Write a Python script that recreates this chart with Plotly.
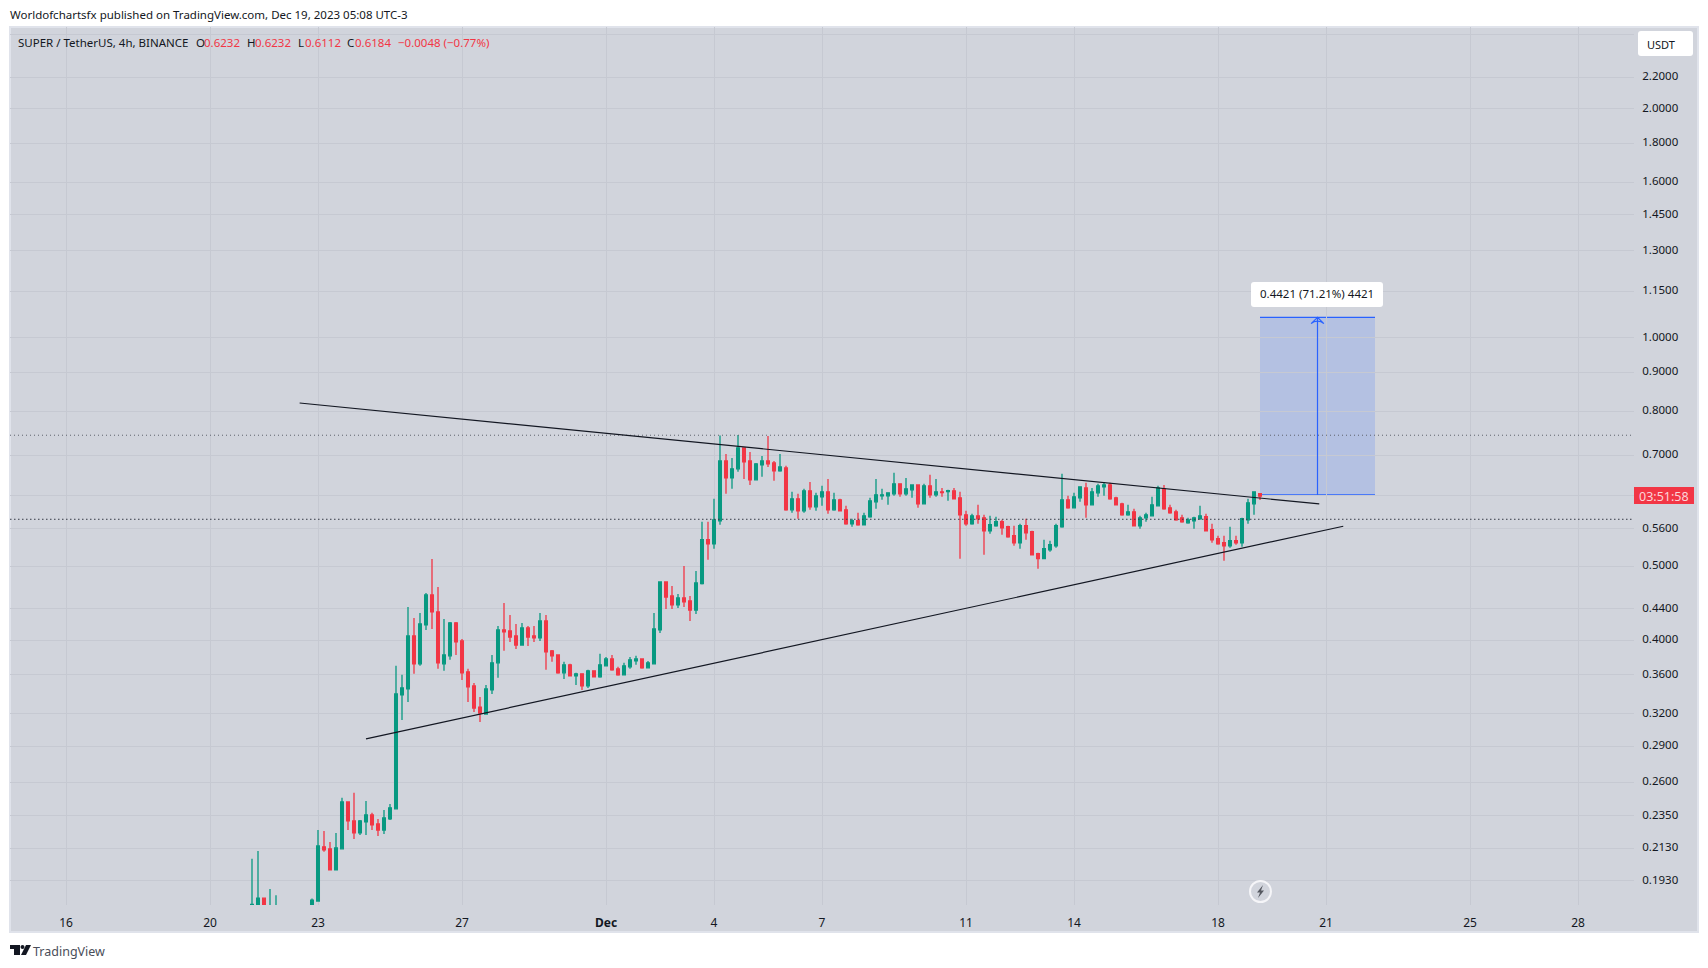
import pandas as pd
import plotly.graph_objects as go

# SUPER / USDT 4h candles (first ones sit below the visible range)
opens = [
    .1785, .1775, .1831, .1760, .1765, .1760, .1770, .1755, .1765, .1775,
    .1775, .1815, .2139, .2126, .1995, .2126, .2451, .2314, .2231, .2307,
    .2356, .2293, .2251, .2328, .2400, .3388, .3450, .4051, .3723, .4188,
    .4586, .4356, .3723, .3814, .4213, .3990, .3634, .3482, .3266, .3198,
    .3440, .3734, .4125, .4113, .4051, .3941, .4150, .4051, .4026, .4239,
    .3872, .3825, .3623, .3712, .3590, .3612, .3482, .3645, .3579, .3700,
    .3779, .3667, .3601, .3689, .3756, .3779, .3678, .3723, .4125, .4770,
    .4572, .4450, .4545, .4504, .4382, .4746, .5420, .5355, .5741, .6882,
    .6537, .6718, .7158, .6882, .6498, .6799, .6882, .6840, .6677, .6738,
    .5935, .6135, .5917, .6285, .5989, .6172, .6266, .5935, .6117, .5935,
    .5689, .5741, .5672, .5811, .6080, .6191, .6191, .6229, .6420, .6229,
    .6304, .6400, .6044, .6381, .6210, .6266, .6272, .6285, .6154, .5846,
    .5689, .5828, .5793, .5570, .5655, .5724, .5638, .5486, .5371, .5655,
    .5553, .5196, .5118, .5259, .5323, .5638, .6117, .5971, .6154, .6342,
    .6025, .6247, .6362, .6400, .6154, .6044, .5846, .5899, .5655, .5793,
    .5828, .6007, .6323, .5971, .5899, .5793, .5706, .5741, .5776, .5811,
    .5587, .5437, .5371, .5323, .5404, .5371, .5758, .6044, .6232,
]
highs = [
    .2063, .2113, .1831, .1883, .1848, .1785, .1785, .1780, .1785, .1788,
    .1829, .2251, .2245, .2171, .2231, .2481, .2451, .2519, .2321, .2458,
    .2371, .2328, .2392, .2436, .3700, .3601, .4422, .4277, .4343, .4614,
    .5114, .4699, .4264, .4226, .4226, .4014, .3667, .3513, .3367, .3493,
    .3825, .4175, .4477, .4316, .4200, .4213, .4175, .4175, .4343, .4316,
    .3883, .3825, .3745, .3723, .3623, .3612, .3656, .3645, .3837, .3802,
    .3825, .3689, .3734, .3802, .3814, .3779, .3756, .4343, .4770, .4770,
    .4713, .4601, .5007, .4572, .4932, .5724, .5724, .6135, .7430, .7029,
    .6944, .7445, .7158, .7072, .6840, .6987, .7423, .6882, .7029, .6779,
    .6266, .6229, .6323, .6458, .6247, .6381, .6517, .6247, .6135, .6007,
    .5776, .5881, .5881, .6154, .6517, .6323, .6247, .6637, .6420, .6537,
    .6400, .6400, .6420, .6597, .6517, .6342, .6304, .6342, .6266, .5917,
    .5864, .6025, .5846, .5828, .5811, .5758, .5655, .5655, .5689, .5776,
    .5570, .5212, .5420, .5404, .5689, .6617, .6191, .6247, .6362, .6439,
    .6342, .6420, .6458, .6439, .6172, .6062, .6025, .5953, .5828, .5881,
    .6172, .6381, .6400, .6025, .5935, .5846, .5793, .5811, .6007, .5864,
    .5689, .5486, .5486, .5638, .5486, .5793, .6135, .6266, .6232,
]
lows = [
    .1770, .1760, .1765, .1750, .1755, .1745, .1750, .1740, .1750, .1755,
    .1765, .1815, .2107, .1995, .1995, .2126, .2251, .2191, .2218, .2218,
    .2251, .2211, .2224, .2321, .2400, .3141, .3316, .3612, .3700, .4125,
    .4137, .3667, .3645, .3768, .3825, .3546, .3316, .3218, .3122, .3198,
    .3398, .3568, .3872, .3978, .3895, .3941, .3929, .3978, .3990, .3656,
    .3745, .3612, .3557, .3590, .3493, .3440, .3461, .3579, .3568, .3700,
    .3645, .3590, .3601, .3667, .3712, .3667, .3678, .3723, .4088, .4396,
    .4396, .4409, .4422, .4239, .4329, .4732, .5103, .5275, .5672, .6229,
    .6323, .6657, .6517, .6400, .6498, .6557, .6758, .6478, .6657, .5917,
    .5881, .5776, .5881, .5935, .5917, .6007, .5864, .5917, .5917, .5672,
    .5638, .5655, .5672, .5793, .5953, .6117, .6025, .6191, .6172, .6191,
    .6154, .5971, .6044, .6154, .6172, .6172, .6099, .6135, .5118, .5655,
    .5672, .5689, .5180, .5519, .5638, .5503, .5453, .5323, .5275, .5420,
    .5180, .4966, .5118, .5227, .5291, .5621, .5953, .5971, .6080, .5793,
    .6025, .6172, .6191, .6117, .6025, .5828, .5828, .5655, .5604, .5724,
    .5828, .6007, .5935, .5864, .5741, .5706, .5689, .5604, .5758, .5570,
    .5371, .5339, .5088, .5291, .5339, .5307, .5689, .5846, .6112,
]
closes = [
    .1797, .1831, .1775, .1780, .1775, .1770, .1755, .1765, .1775, .1770,
    .1820, .2145, .2119, .1995, .2132, .2451, .2314, .2231, .2314, .2356,
    .2286, .2251, .2335, .2407, .3398, .3461, .4051, .3723, .4200, .4586,
    .4356, .3734, .3825, .4213, .3978, .3623, .3471, .3257, .3208, .3450,
    .3734, .4125, .4100, .4038, .3941, .4150, .4038, .4026, .4239, .3860,
    .3814, .3623, .3712, .3590, .3612, .3482, .3645, .3579, .3712, .3779,
    .3656, .3601, .3700, .3768, .3779, .3678, .3734, .4137, .4770, .4558,
    .4450, .4545, .4491, .4382, .4756, .5420, .5355, .5758, .6882, .6537,
    .6718, .7158, .6861, .6498, .6819, .6882, .6819, .6677, .6758, .5935,
    .6135, .5917, .6285, .5989, .6191, .6266, .5935, .6117, .5917, .5689,
    .5741, .5672, .5828, .6099, .6210, .6210, .6247, .6420, .6229, .6323,
    .6400, .6044, .6381, .6210, .6266, .6253, .6291, .6135, .5846, .5689,
    .5828, .5776, .5570, .5672, .5724, .5621, .5470, .5371, .5655, .5536,
    .5180, .5118, .5275, .5339, .5655, .6117, .5971, .6172, .6362, .6025,
    .6266, .6381, .6400, .6135, .6025, .5846, .5899, .5655, .5793, .5846,
    .6025, .6342, .5953, .5881, .5758, .5724, .5758, .5793, .5828, .5570,
    .5420, .5355, .5323, .5404, .5371, .5776, .6062, .6266, .6184,
]
candle_times = pd.date_range("2023-11-21 04:00", periods=len(opens), freq="4h")

# Eixos
price_ticks = [2.5, 2.2, 2.0, 1.8, 1.6, 1.45, 1.3, 1.15, 1.0, 0.9, 0.8, 0.7, 0.62, 0.56,
               0.5, 0.44, 0.4, 0.36, 0.32, 0.29, 0.26, 0.235, 0.213, 0.193]
price_labels = ["", "2.2000", "2.0000", "1.8000", "1.6000", "1.4500", "1.3000", "1.1500",
                "1.0000", "0.9000", "0.8000", "0.7000", "", "0.5600", "0.5000", "0.4400",
                "0.4000", "0.3600", "0.3200", "0.2900", "0.2600", "0.2350", "0.2130", "0.1930"]
date_ticks = ["2023-11-16", "2023-11-20", "2023-11-23", "2023-11-27", "2023-12-01", "2023-12-04",
              "2023-12-07", "2023-12-11", "2023-12-14", "2023-12-18", "2023-12-21", "2023-12-25",
              "2023-12-28"]
date_labels = ["16", "20", "23", "27", "<b>Dec</b>", "4", "7", "11", "14", "18", "21", "25", "28"]

# Linhas desenhadas no grafico
upper_line_x = ["2023-11-22 11:44", "2023-12-20 19:30"]
upper_line_y = [0.8201, 0.6041]
lower_line_x = ["2023-11-24 08:00", "2023-12-21 11:30"]
lower_line_y = [0.2966, 0.5647]
dotted_levels = [0.7438, 0.5767]
measure_x = ["2023-12-19 04:00", "2023-12-22 08:40"]
measure_y = [0.6208, 1.0629]
measure_mid = "2023-12-20 18:20"

x_range = ["2023-11-14 10:40", "2023-12-29 13:20"]
y_range = [-0.74624, 0.40824]  # log10 of 0.1794 and 2.560

BG = "#d1d4dc"
GRID = "#c6c9d2"
BLUE = "#2962ff"
RED = "#f23645"
GREEN = "#089981"
TEXT = "#131722"
FONT = "Noto Sans, Open Sans, sans-serif"

# plot area in page pixels
L, R, T, B = 10, 1634, 27, 905


def px_x(x):
    return (x - L) / (R - L)


def px_y(y):
    return (B - y) / (B - T)


def paper_shape(path, fill, line=None, layer="above", width=0):
    return dict(type="path", path=path, xref="paper", yref="paper", fillcolor=fill,
                line=dict(color=line or fill, width=width), layer=layer)


def rounded(x0, y0, x1, y1, r):
    a, b, c, d = px_x(x0), px_x(x0 + r), px_x(x1 - r), px_x(x1)
    e, f, g, h = px_y(y0), px_y(y0 + r), px_y(y1 - r), px_y(y1)
    return (f"M {b} {e} L {c} {e} Q {d} {e} {d} {f} L {d} {g} Q {d} {h} {c} {h} "
            f"L {b} {h} Q {a} {h} {a} {g} L {a} {f} Q {a} {e} {b} {e} Z")


def poly(points):
    return "M " + " L ".join(f"{px_x(x)} {px_y(y)}" for x, y in points) + " Z"


def label(x, y, text, size=11.5, color=TEXT, anchor="left"):
    return dict(x=px_x(x), y=px_y(y), xref="paper", yref="paper", text=text, showarrow=False,
                xanchor=anchor, yanchor="middle", align=anchor,
                font=dict(family=FONT, size=size, color=color))


fig = go.Figure()

fig.add_trace(go.Candlestick(
    x=candle_times, open=opens, high=highs, low=lows, close=closes, whiskerwidth=0,
    increasing=dict(line=dict(color=GREEN, width=1.3), fillcolor=GREEN),
    decreasing=dict(line=dict(color=RED, width=1.3), fillcolor=RED),
))

fig.add_trace(go.Scatter(x=x_range, y=[dotted_levels[0]] * 2, mode="lines",
                         line=dict(color="#5d616c", width=1, dash="1px,3px")))
fig.add_trace(go.Scatter(x=x_range, y=[dotted_levels[1]] * 2, mode="lines",
                         line=dict(color="#363a45", width=1, dash="1.5px,2.5px")))

fig.add_trace(go.Scatter(x=upper_line_x, y=upper_line_y, mode="lines", line=dict(color="#131722", width=1.2)))
fig.add_trace(go.Scatter(x=lower_line_x, y=lower_line_y, mode="lines", line=dict(color="#131722", width=1.2)))

# seta da medida
fig.add_trace(go.Scatter(x=[measure_mid, measure_mid], y=measure_y, mode="lines",
                         line=dict(color=BLUE, width=1.2)))
fig.add_trace(go.Scatter(x=[measure_mid], y=[measure_y[1]], mode="markers", cliponaxis=False,
                         marker=dict(symbol="arrow-wide-open", size=9, color=BLUE,
                                     line=dict(color=BLUE, width=1.2))))

shapes = [
    # painel
    paper_shape(poly([(10, 27), (1698, 27), (1698, 932), (10, 932)]), BG, "#e0e3eb", "below", 2),
    # medida
    dict(type="rect", xref="x", yref="y", x0=measure_x[0], x1=measure_x[1], y0=measure_y[0], y1=measure_y[1],
         fillcolor="rgba(41,98,255,0.17)", line=dict(width=0), layer="below"),
    dict(type="line", xref="x", yref="y", x0=measure_x[0], x1=measure_x[1], y0=measure_y[0], y1=measure_y[0],
         line=dict(color=BLUE, width=1.2), layer="below"),
    dict(type="line", xref="x", yref="y", x0=measure_x[0], x1=measure_x[1], y0=measure_y[1], y1=measure_y[1],
         line=dict(color=BLUE, width=1.2), layer="below"),
    # caixas
    paper_shape(rounded(1251, 282, 1383, 307, 3), "#ffffff"),
    paper_shape(rounded(1638, 31, 1693, 56, 3), "#ffffff"),
    paper_shape(poly([(1634, 487), (1694, 487), (1694, 504), (1634, 504)]), RED),
    # botao do raio
    dict(type="circle", xref="paper", yref="paper", x0=px_x(1250), x1=px_x(1271), y0=px_y(902), y1=px_y(881),
         fillcolor=BG, line=dict(color="#f5f5f8", width=2), layer="above"),
    paper_shape(poly([(1263, 885), (1257, 892.5), (1260, 892.5), (1258, 898), (1264, 890.5), (1261, 890.5)]),
                "#555860"),
    # logo
    paper_shape(poly([(10, 945), (20, 945), (20, 955), (14, 955), (14, 949), (10, 949)]), "#131722"),
    paper_shape(poly([(26, 945), (31, 945), (26, 955), (21, 955)]), "#131722"),
    dict(type="circle", xref="paper", yref="paper", x0=px_x(20.5), x1=px_x(24.5), y0=px_y(949), y1=px_y(945),
         fillcolor="#131722", line=dict(width=0), layer="above"),
]

annotations = [
    label(8, 14.5, "Worldofchartsfx published on TradingView.com, Dec 19, 2023 05:08 UTC-3"),
    label(15.5, 42, "SUPER / TetherUS, 4h, BINANCE"),
    label(193.5, 42, "O"),
    label(201.5, 42, "0.6232", color=RED),
    label(244.5, 42, "H"),
    label(252.5, 42, "0.6232", color=RED),
    label(295.5, 42, "L"),
    label(302.5, 42, "0.6112", color=RED),
    label(344.5, 42, "C"),
    label(352.5, 42, "0.6184", color=RED),
    label(395.5, 42, "−0.0048 (−0.77%)", color=RED),
    label(1661, 44, "USDT", 11, anchor="center"),
    label(1317, 293.5, "0.4421 (71.21%) 4421", 11.5, anchor="center"),
    label(1664, 496, "03:51:58", 12.5, "#fbd5d9", anchor="center"),
    label(31, 951, "TradingView", 12.5, "#4a4e59"),
]

fig.update_layout(
    width=1708, height=968, autosize=False,
    margin=dict(l=L, r=1708 - R, t=T, b=968 - B),
    paper_bgcolor="#ffffff", plot_bgcolor="rgba(0,0,0,0)",
    showlegend=False, hovermode=False, boxgap=0.35,
    shapes=shapes, annotations=annotations,
    font=dict(family=FONT, size=12, color=TEXT),
    xaxis=dict(type="date", range=x_range, tickmode="array", tickvals=date_ticks, ticktext=date_labels,
               showgrid=True, gridcolor=GRID, gridwidth=1, zeroline=False, showline=False,
               ticks="outside", ticklen=7, tickcolor="rgba(0,0,0,0)", rangeslider=dict(visible=False),
               tickfont=dict(family=FONT, size=12, color=TEXT)),
    yaxis=dict(type="log", range=y_range, side="right", tickmode="array", tickvals=price_ticks,
               ticktext=price_labels, showgrid=True, gridcolor=GRID, gridwidth=1, zeroline=False,
               showline=False, ticks="outside", ticklen=5, tickcolor="rgba(0,0,0,0)", ticklabelshift=-1,
               tickfont=dict(family=FONT, size=11.5, color=TEXT)),
)

fig.write_html("out.html", config={"displayModeBar": False},
               post_script="document.body.style.margin='0';")
